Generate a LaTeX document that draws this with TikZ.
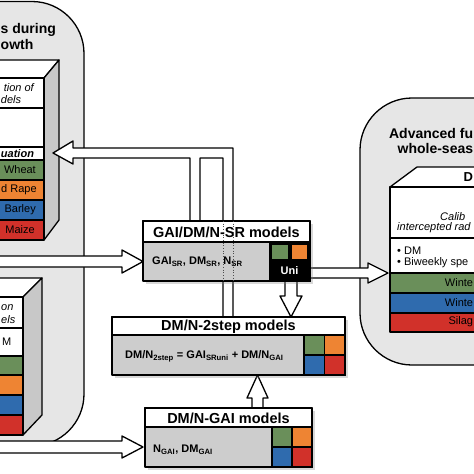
\documentclass[tikz,border=0pt]{standalone}
\usepackage{fontspec}
\setmainfont{Liberation Sans}
\usetikzlibrary{shadows,calc}
\definecolor{panelgray}{HTML}{E6E6E6}
\definecolor{bodygray}{HTML}{CDCDCD}
\definecolor{sidegray}{HTML}{C8C8C8}
\definecolor{cgreen}{HTML}{6A8F5A}
\definecolor{corange}{HTML}{EE8433}
\definecolor{cblue}{HTML}{2F6BAE}
\definecolor{cred}{HTML}{D1312A}
\begin{document}
\begin{tikzpicture}[x=1pt,y=-1pt,line join=round,
  lw/.style={line width=1.3pt},
  panel/.style={lw,draw=black,fill=panelgray,rounded corners=52pt},
  face/.style={lw,draw=black,fill=white},
  sideface/.style={lw,draw=black,fill=sidegray},
  fat/.style={lw,draw=black,fill=white},
  modelbox/.style={lw,draw=black,fill=bodygray,anchor=north west,inner sep=0pt,
    drop shadow={shadow xshift=2.5pt,shadow yshift=-2.5pt,opacity=0.3}},
  ttl/.style={font=\fontsize{14.5}{16}\selectfont\bfseries,inner sep=0pt},
  ptitle/.style={font=\fontsize{14}{16}\selectfont\bfseries,inner sep=0pt},
  bodytxt/.style={font=\fontsize{11}{13}\selectfont\bfseries,inner sep=0pt,anchor=west},
  rowtxt/.style={font=\fontsize{11}{13}\selectfont,inner sep=0pt},
  ittxt/.style={font=\fontsize{11}{13}\selectfont\itshape,inner sep=0pt},
  dots/.style={line width=0.7pt,black!70,dotted}
]
\useasboundingbox (0,0) rectangle (474,474);
\fill[white] (0,0) rectangle (474,474);

% panels
\draw[panel] (-80,1.5) rectangle (84,446);
\draw[panel] (360,98) rectangle (560,365);

% left panel titles
\node[ptitle,anchor=west] (lt1) at (0.5,30) {s during};
\node[ptitle,anchor=west] (lt2) at (0.5,44) {owth};

% top-left 3D box
\draw[face] (-10,60) -- (59,60) -- (44,78) -- (-10,78) -- cycle;
\draw[sideface] (44,78) -- (59,60) -- (59,220) -- (44,240) -- cycle;
\draw[face] (-10,78) rectangle (44,108);
\draw[face] (-10,108) rectangle (44,147);
\draw[face] (-10,147) rectangle (44,160);
\draw[lw,fill=cgreen] (-10,160) rectangle (44,180);
\draw[lw,fill=corange] (-10,180) rectangle (44,200);
\draw[lw,fill=cblue] (-10,200) rectangle (44,220);
\draw[lw,fill=cred] (-10,220) rectangle (44,240);
\node[ittxt,anchor=east] (a1) at (34,88) {tion of};
\node[ittxt,anchor=west] (a2) at (0.8,100) {dels};
\node[ittxt,anchor=west,font=\fontsize{11}{13}\selectfont\bfseries\itshape] (a3) at (0.8,154) {uation};
\node[rowtxt,anchor=east] (a4) at (36,170) {Wheat};
\node[rowtxt,anchor=west] (a5) at (1,190) {d Rape};
\node[rowtxt,anchor=east] (a6) at (36,210) {Barley};
\node[rowtxt,anchor=east] (a7) at (35,230) {Maize};

% bottom-left 3D box
\draw[face] (-10,278) -- (42,278) -- (23,297) -- (-10,297) -- cycle;
\draw[sideface] (23,297) -- (42,278) -- (42,415) -- (23,435) -- cycle;
\draw[face] (-10,297) rectangle (23,328);
\draw[face] (-10,328) rectangle (23,356);
\draw[lw,fill=cgreen] (-10,356) rectangle (23,375);
\draw[lw,fill=corange] (-10,375) rectangle (23,395);
\draw[lw,fill=cblue] (-10,395) rectangle (23,415);
\draw[lw,fill=cred] (-10,415) rectangle (23,435);
\node[ittxt,anchor=west] (b1) at (1,308) {on};
\node[ittxt,anchor=west] (b2) at (1,320) {els};
\node[rowtxt,anchor=west] (b3) at (2,342) {M};

% right panel
\node[ptitle,anchor=east] (rt1) at (473.3,133) {Advanced fu};
\node[ptitle,anchor=east] (rt2) at (473.3,148) {whole-seas};
\draw[face] (390,187) -- (417,167) -- (490,167) -- (490,187) -- cycle;
\draw[face] (390,187) rectangle (490,238);
\draw[face] (390,238) rectangle (490,273);
\draw[lw,fill=cgreen] (390,273) rectangle (490,293);
\draw[lw,fill=cblue] (390,293) rectangle (490,313);
\draw[lw,fill=cred] (390,313) rectangle (490,332);
\node[font=\fontsize{13}{15}\selectfont\bfseries,inner sep=0pt,anchor=east] (c0) at (473.3,177) {D};
\node[ittxt,anchor=west] (c1) at (440,217) {Calib};
\node[ittxt,anchor=west] (c2) at (397,228) {intercepted rad};
\node[rowtxt,anchor=west] (c3) at (397,251) {\textbullet\ DM};
\node[rowtxt,anchor=west] (c4) at (397,263) {\textbullet\ Biweekly spe};
\node[rowtxt,anchor=east] (c5) at (473.3,283) {Winte};
\node[rowtxt,anchor=east] (c6) at (473.3,303) {Winte};
\node[rowtxt,anchor=east] (c7) at (473.3,322) {Silag};

% fat arrows
\draw[fat] (233,317) -- (233,148) -- (73,148) -- (73,141) -- (53,153) -- (73,164) -- (73,158)
  -- (190,158) -- (190,221) -- (200,221) -- (200,158) -- (223,158) -- (223,317) -- cycle;
\draw[fat] (-5,256) -- (122,256) -- (122,250) -- (143,261.5) -- (122,273) -- (122,267) -- (-5,267) -- cycle;
\draw[fat] (-5,441) -- (122,441) -- (122,436) -- (143,447) -- (122,458) -- (122,453) -- (-5,453) -- cycle;
\draw[fat] (252,409) -- (252,398) -- (247,398) -- (257.5,375) -- (268,398) -- (263,398) -- (263,409) -- cycle;
\draw[fat] (285,280) -- (285,296) -- (280,296) -- (291,317) -- (302,296) -- (297,296) -- (297,280) -- cycle;
\draw[fat] (309,268) -- (368,268) -- (368,263) -- (388,273) -- (368,283) -- (368,278) -- (309,278) -- cycle;

% GAI/DM/N-SR model box
\node[modelbox,minimum width=167pt,minimum height=60pt] (sr) at (143,221) {};
\draw[face] (143,221) rectangle (310,242);
\fill[black] (269,242) rectangle (310,281);
\draw[lw,fill=cgreen] (271,244) rectangle (289,260);
\draw[lw,fill=corange] (291,244) rectangle (308,260);
\draw[lw] (143,221) rectangle (310,281);
\node[ttl] (srt) at (226.5,232) {GAI/DM/N-SR models};
\node[bodytxt] (srb) at (152,262) {GAI\textsubscript{SR}, DM\textsubscript{SR}, N\textsubscript{SR}};
\node[font=\fontsize{11}{13}\selectfont\bfseries,text=white,inner sep=0pt] (uni) at (289.5,271) {Uni};
\draw[dots] (223,221) -- (223,281);
\draw[dots] (233,221) -- (233,281);

% DM/N-2step model box
\node[modelbox,minimum width=233pt,minimum height=58pt] (ts) at (112,317) {};
\draw[face] (112,317) rectangle (345,335);
\draw[lw,fill=cgreen] (304,335) rectangle (324.5,355);
\draw[lw,fill=corange] (324.5,335) rectangle (345,355);
\draw[lw,fill=cblue] (304,355) rectangle (324.5,375);
\draw[lw,fill=cred] (324.5,355) rectangle (345,375);
\draw[lw] (112,317) rectangle (345,375);
\node[ttl] (tst) at (228.5,326.5) {DM/N-2step models};
\node[bodytxt] (tsb) at (125,356) {DM/N\textsubscript{2step} = GAI\textsubscript{SRuni} + DM/N\textsubscript{GAI}};

% DM/N-GAI model box
\node[modelbox,minimum width=167pt,minimum height=59pt] (gai) at (145,408) {};
\draw[face] (145,408) rectangle (312,427);
\draw[lw,fill=cgreen] (272,427) rectangle (292,447);
\draw[lw,fill=corange] (292,427) rectangle (312,447);
\draw[lw,fill=cblue] (272,447) rectangle (292,467);
\draw[lw,fill=cred] (292,447) rectangle (312,467);
\draw[lw] (145,408) rectangle (312,467);
\node[ttl] (gait) at (228.5,418) {DM/N-GAI models};
\node[bodytxt] (gaib) at (153,450) {N\textsubscript{GAI}, DM\textsubscript{GAI}};
\end{tikzpicture}
\end{document}
